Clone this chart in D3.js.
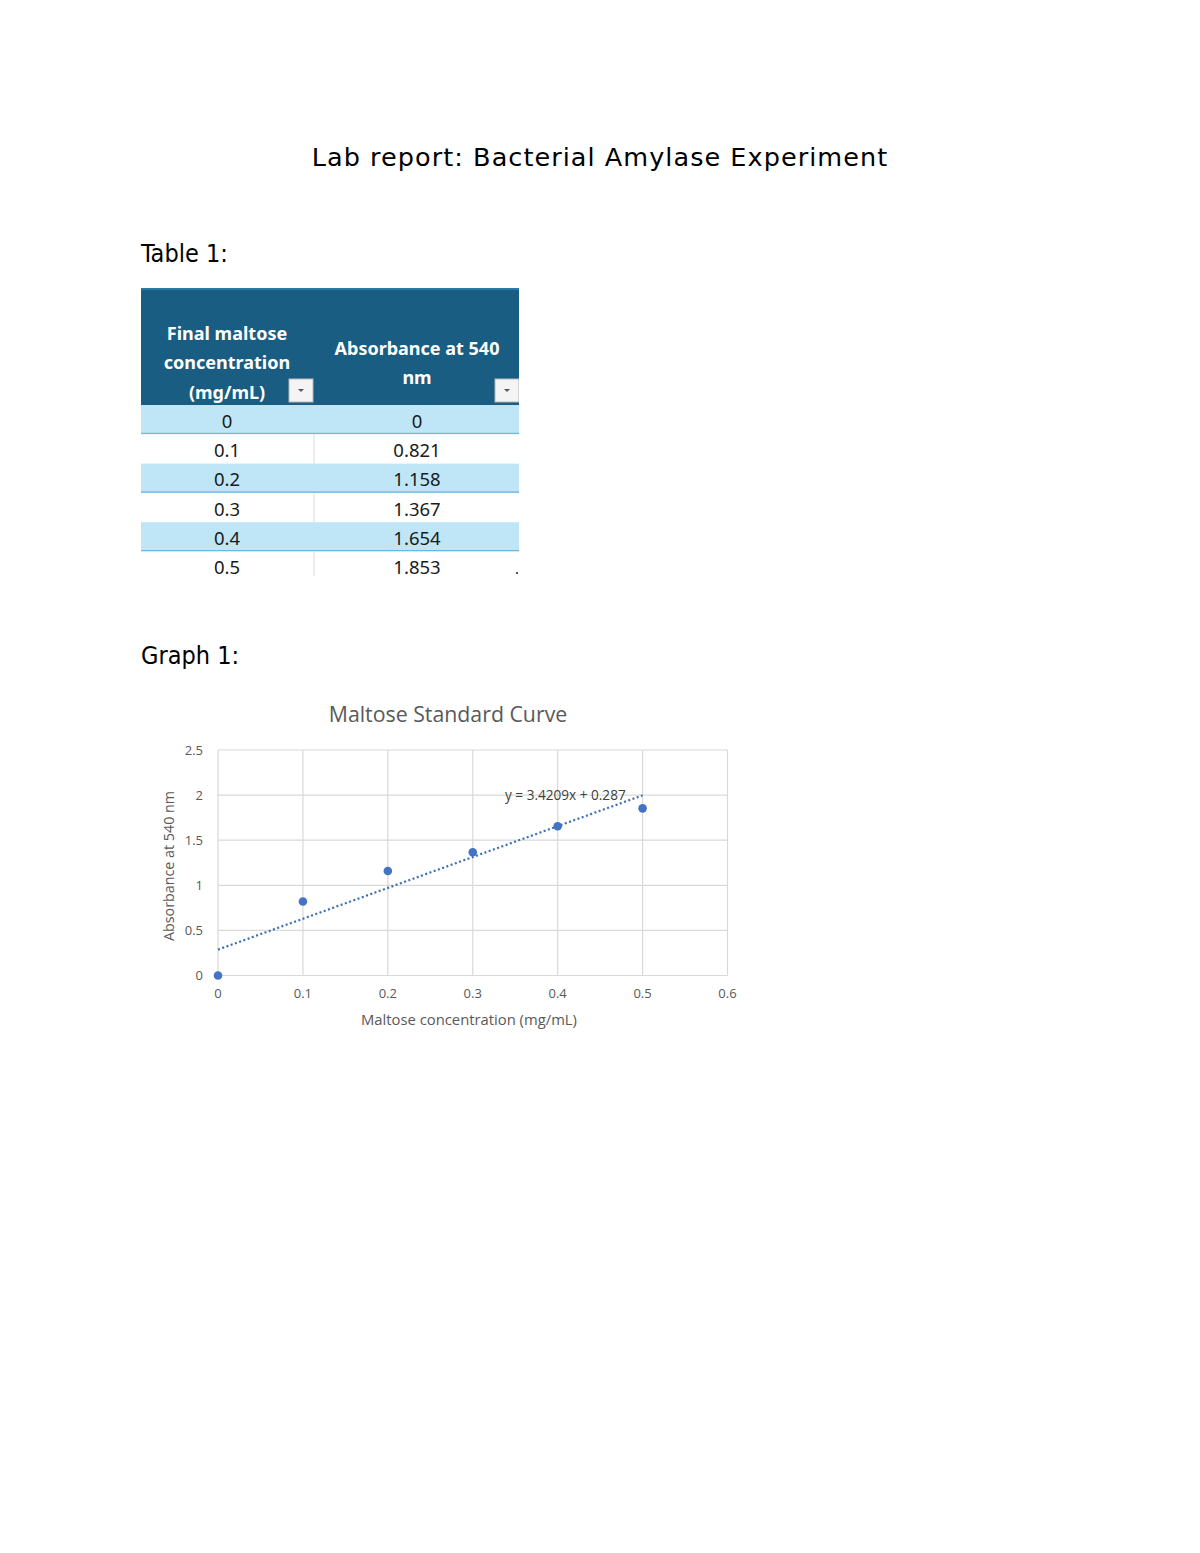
<!DOCTYPE html>
<html>
<head>
<meta charset="utf-8">
<script src="https://cdn.jsdelivr.net/npm/d3@7"></script>
<style>
  html, body { margin: 0; padding: 0; background: #fff; }
  svg { display: block; }
</style>
</head>
<body>
<svg id="page" width="1200" height="1553"></svg>
<script>
// ---------- data ----------
const concentrations = [0, 0.1, 0.2, 0.3, 0.4, 0.5];
const absorbances = [0, 0.821, 1.158, 1.367, 1.654, 1.853];
const concLabels = ["0", "0.1", "0.2", "0.3", "0.4", "0.5"];
const absLabels = ["0", "0.821", "1.158", "1.367", "1.654", "1.853"];
const xTicks = [0, 0.1, 0.2, 0.3, 0.4, 0.5, 0.6];
const yTicks = [0, 0.5, 1, 1.5, 2, 2.5];
const trendSlope = 3.4209;
const trendIntercept = 0.287;
const equationText = "y = 3.4209x + 0.287";

const svg = d3.select("#page");

// ---------- page text ----------
svg.append("text").attr("x", 600).attr("y", 166).attr("text-anchor", "middle")
  .attr("font-family", "DejaVu Sans").attr("font-size", 25.5).attr("letter-spacing", 1.05)
  .attr("fill", "#000").text("Lab report: Bacterial Amylase Experiment");
svg.append("text").attr("x", 141).attr("y", 262)
  .attr("font-family", "DejaVu Sans Condensed, DejaVu Sans").attr("font-size", 25).attr("fill", "#000").text("Table 1:");
svg.append("text").attr("x", 141).attr("y", 664)
  .attr("font-family", "DejaVu Sans Condensed, DejaVu Sans").attr("font-size", 25).attr("fill", "#000").text("Graph 1:");

// ---------- table ----------
const tX0 = 141, tX1 = 519, tDiv = 314, tTop = 288, hdrBottom = 405, rowH = 29.3, tClip = 576;
const tbl = svg.append("g");
const clip = svg.append("clipPath").attr("id", "tclip");
clip.append("rect").attr("x", tX0).attr("y", tTop).attr("width", tX1 - tX0).attr("height", tClip - tTop);
const tg = tbl.append("g").attr("clip-path", "url(#tclip)");

tg.append("rect").attr("x", tX0).attr("y", tTop).attr("width", tX1 - tX0).attr("height", hdrBottom - tTop)
  .attr("fill", "#1a5d82");
tg.append("rect").attr("x", tX0).attr("y", tTop).attr("width", tX1 - tX0).attr("height", 2).attr("fill", "#2b7aa6");

const rowY = d3.scaleLinear().domain([0, 1]).range([hdrBottom, hdrBottom + rowH]);
const rows = tg.selectAll("g.row").data(concLabels.map((c, i) => ({ c, a: absLabels[i], i })))
  .enter().append("g").attr("class", "row");
rows.append("rect").attr("x", tX0).attr("y", d => rowY(d.i)).attr("width", tX1 - tX0).attr("height", rowH)
  .attr("fill", d => d.i % 2 === 0 ? "#bee6f6" : "#ffffff");
rows.filter(d => d.i % 2 === 0).append("rect").attr("x", tX0).attr("y", d => rowY(d.i + 1) - 1.5)
  .attr("width", tX1 - tX0).attr("height", 1.5).attr("fill", "#6fb7dc");
rows.filter(d => d.i % 2 === 1).append("line").attr("x1", tDiv).attr("x2", tDiv)
  .attr("y1", d => rowY(d.i)).attr("y2", d => rowY(d.i + 1)).attr("stroke", "#d9d9d9").attr("stroke-width", 1);
rows.append("text").attr("x", 227).attr("y", d => rowY(d.i) + rowH / 2 + 8).attr("text-anchor", "middle")
  .attr("font-family", "Noto Sans").attr("font-size", 18.5).attr("fill", "#1a1a1a").text(d => d.c);
rows.append("text").attr("x", 417).attr("y", d => rowY(d.i) + rowH / 2 + 8).attr("text-anchor", "middle")
  .attr("font-family", "Noto Sans").attr("font-size", 18.5).attr("fill", "#1a1a1a").text(d => d.a);

// header text
const hdr1 = ["Final maltose", "concentration", "(mg/mL)"];
const hdr2 = ["Absorbance at 540", "nm"];
hdr1.forEach((t, i) => {
  tg.append("text").attr("x", 227).attr("y", 340 + i * 29.3).attr("text-anchor", "middle")
    .attr("font-family", "Noto Sans").attr("font-weight", "bold").attr("font-size", 18).attr("fill", "#fff").text(t);
});
hdr2.forEach((t, i) => {
  tg.append("text").attr("x", 417).attr("y", 355 + i * 29.3).attr("text-anchor", "middle")
    .attr("font-family", "Noto Sans").attr("font-weight", "bold").attr("font-size", 18).attr("fill", "#fff").text(t);
});
// dropdown buttons
[289, 495].forEach(bx => {
  tg.append("rect").attr("x", bx).attr("y", 379).attr("width", 24).attr("height", 23)
    .attr("fill", "#f4f4f4").attr("stroke", "#b8b8b8").attr("stroke-width", 1);
  tg.append("path").attr("d", `M${bx + 9},${389} h6 l-3,3 z`).attr("fill", "#555");
});
svg.append("rect").attr("x", 516).attr("y", 572).attr("width", 2).attr("height", 2).attr("fill", "#555");

// ---------- chart ----------
const x = d3.scaleLinear().domain([0, 0.6]).range([218, 727.5]);
const y = d3.scaleLinear().domain([0, 2.5]).range([975.5, 750]);
const cg = svg.append("g");

cg.selectAll("line.hg").data(yTicks).enter().append("line")
  .attr("x1", x(0)).attr("x2", x(0.6)).attr("y1", d => y(d)).attr("y2", d => y(d))
  .attr("stroke", "#d9d9d9").attr("stroke-width", 1.2);
cg.selectAll("line.vg").data(xTicks).enter().append("line")
  .attr("x1", d => x(d)).attr("x2", d => x(d)).attr("y1", y(0)).attr("y2", y(2.5))
  .attr("stroke", "#d9d9d9").attr("stroke-width", 1.2);

const fmt = d => String(d);
cg.selectAll("text.yt").data(yTicks).enter().append("text")
  .attr("x", 203).attr("y", d => y(d) + 4.5).attr("text-anchor", "end")
  .attr("font-family", "Open Sans").attr("font-size", 13).attr("fill", "#595959").text(fmt);
cg.selectAll("text.xt").data(xTicks).enter().append("text")
  .attr("x", d => x(d)).attr("y", 998).attr("text-anchor", "middle")
  .attr("font-family", "Open Sans").attr("font-size", 13).attr("fill", "#595959").text(fmt);

cg.append("text").attr("x", 448).attr("y", 722).attr("text-anchor", "middle")
  .attr("font-family", "Open Sans").attr("font-size", 21.3).attr("fill", "#595959").text("Maltose Standard Curve");
cg.append("text").attr("x", 469).attr("y", 1025).attr("text-anchor", "middle")
  .attr("font-family", "Open Sans").attr("font-size", 14.8).attr("fill", "#595959").text("Maltose concentration (mg/mL)");
cg.append("text").attr("transform", "translate(174,866) rotate(-90)").attr("text-anchor", "middle")
  .attr("font-family", "Open Sans").attr("font-size", 14.3).attr("fill", "#595959").text("Absorbance at 540 nm");

// trendline
const trendX = [0, 0.5];
cg.append("path")
  .attr("d", d3.line().x(d => x(d)).y(d => y(trendSlope * d + trendIntercept))(trendX))
  .attr("fill", "none").attr("stroke", "#3a6fb5").attr("stroke-width", 2.2)
  .attr("stroke-dasharray", "2,2.5");

cg.selectAll("circle.pt").data(concentrations.map((c, i) => [c, absorbances[i]])).enter().append("circle")
  .attr("cx", d => x(d[0])).attr("cy", d => y(d[1])).attr("r", 4.3).attr("fill", "#4472c4");

cg.append("text").attr("x", 505).attr("y", 800)
  .attr("font-family", "Open Sans").attr("font-size", 13.6).attr("fill", "#404040").text(equationText);
</script>
</body>
</html>
